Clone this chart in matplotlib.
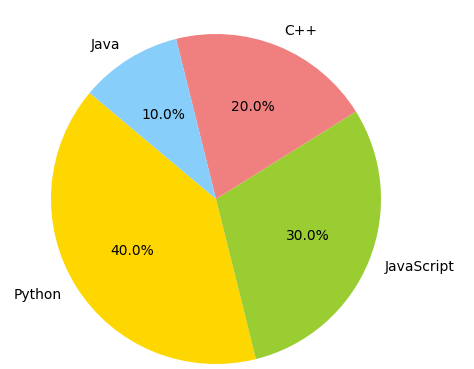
import matplotlib
matplotlib.use('Agg')
import matplotlib.pyplot as plt

labels = ['Python', 'JavaScript', 'C++', 'Java']
sizes = [40, 30, 20, 10]
colors = ['gold', 'yellowgreen', 'lightcoral', 'lightskyblue']

W, H = 474, 369
fig = plt.figure(figsize=(W / 100, H / 100), dpi=100)

# place axes so the pie sits where it does in the reference
cx, cy, r = 216, 199, 165
half = 1.25 * r
ax = fig.add_axes([(cx - half) / W, (H - cy - half) / H, 2 * half / W, 2 * half / H])

ax.pie(sizes, labels=labels, colors=colors, autopct='%1.1f%%', startangle=140)
ax.set_aspect('equal')
ax.set_xlim(-1.25, 1.25)
ax.set_ylim(-1.25, 1.25)

plt.savefig('out.png', dpi=100)
plt.close()
